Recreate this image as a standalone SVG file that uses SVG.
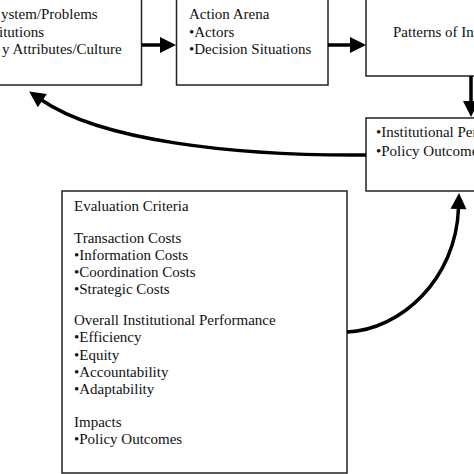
<svg xmlns="http://www.w3.org/2000/svg" width="474" height="474" viewBox="0 0 474 474">
<style>
.box{fill:#fff;stroke:#222;stroke-width:1.5}
.t{font-family:"Liberation Serif","Times New Roman",serif;font-size:15px;fill:#111}
.arr{fill:none;stroke:#000;stroke-width:3.5}
</style>
<defs>
<marker id="ah" markerUnits="userSpaceOnUse" markerWidth="17" markerHeight="17" refX="1" refY="8" orient="auto" overflow="visible">
<path d="M0,0 L16,8 L0,16 z" fill="#000"/>
</marker>
</defs>
<rect width="474" height="474" fill="#fff"/>
<g id="node-context">
<rect class="box" x="-10" y="-10" width="151.5" height="95"/>
<text class="t" x="1" y="19">ystem/Problems</text>
<text class="t" x="-1" y="36.5">itutions</text>
<text class="t" x="2" y="54">y Attributes/Culture</text>
</g>
<g id="node-action-arena">
<rect class="box" x="176.5" y="-10" width="151.5" height="95"/>
<text class="t" x="189" y="19">Action Arena</text>
<text class="t" x="189" y="36.5">•Actors</text>
<text class="t" x="189" y="54">•Decision Situations</text>
</g>
<g id="node-patterns">
<rect class="box" x="366" y="-10" width="120" height="86"/>
<text class="t" x="393" y="37">Patterns of Interactions</text>
</g>
<g id="node-outcomes">
<rect class="box" x="366" y="118" width="120" height="73"/>
<text class="t" x="376" y="137">•Institutional Performance</text>
<text class="t" x="376" y="156">•Policy Outcomes</text>
</g>
<g id="node-evaluation">
<rect class="box" x="62" y="191" width="285" height="282"/>
<text class="t" x="74" y="211">Evaluation Criteria</text>
<text class="t" x="74" y="243">Transaction Costs</text>
<text class="t" x="74" y="260">•Information Costs</text>
<text class="t" x="74" y="277">•Coordination Costs</text>
<text class="t" x="74" y="294">•Strategic Costs</text>
<text class="t" x="74" y="325">Overall Institutional Performance</text>
<text class="t" x="74" y="342">•Efficiency</text>
<text class="t" x="74" y="360">•Equity</text>
<text class="t" x="74" y="377">•Accountability</text>
<text class="t" x="74" y="394">•Adaptability</text>
<text class="t" x="74" y="427">Impacts</text>
<text class="t" x="74" y="444">•Policy Outcomes</text>
</g>
<g id="connectors">
<path class="arr" d="M142,45 L161,45" marker-end="url(#ah)"/>
<path class="arr" d="M328,45 L351,45" marker-end="url(#ah)"/>
<path class="arr" d="M471,76 L471,102" marker-end="url(#ah)"/>
<path class="arr" d="M366,155 C230,156 100,140 41.5,100" marker-end="url(#ah)"/>
<path class="arr" d="M347,332 C400,330 456,280 458.5,208" marker-end="url(#ah)"/>
</g>
</svg>
